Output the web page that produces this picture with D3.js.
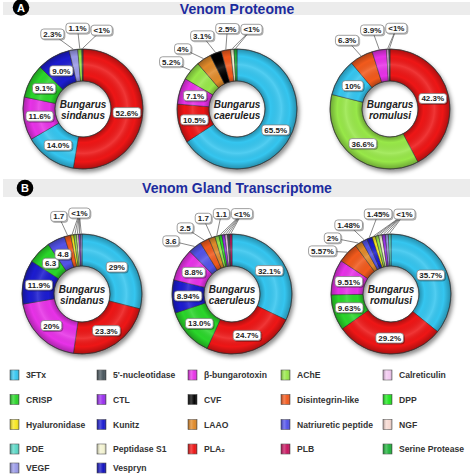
<!DOCTYPE html>
<html>
<head>
<meta charset="utf-8">
<script src="https://cdn.jsdelivr.net/npm/d3@7"></script>
<style>
  body { margin: 0; background: #fff; }
  svg { display: block; font-family: "Liberation Sans", Arial, sans-serif; }
</style>
</head>
<body>
<svg id="chart" width="474" height="474"></svg>
<script>

// protein families, in legend order (row by row)
var families = ["3FTx", "5'-nucleotidase", "β-bungarotoxin", "AChE", "Calreticulin",
  "CRISP", "CTL", "CVF", "Disintegrin-like", "DPP",
  "Hyaluronidase", "Kunitz", "LAAO", "Natriuretic peptide", "NGF",
  "PDE", "Peptidase S1", "PLA₂", "PLB", "Serine Protease",
  "VEGF", "Vespryn"];
var familyColors = ["#36c6f0", "#4a575e", "#e832e8", "#98e84a", "#f2c8f0",
  "#2ad62a", "#9a30ee", "#050505", "#f25a1e", "#20e620",
  "#f6e61e", "#1c1cd0", "#e08a2a", "#5252e8", "#f6d8d0",
  "#5ad8c6", "#f2f2d0", "#ee1616", "#c81660", "#20b43c",
  "#9a9ae8", "#1414c0"];

var panelLetters = ["A", "B"];
var panelTitles = ["Venom Proteome", "Venom Gland Transcriptome"];
var speciesNames = [["Bungarus", "sindanus"], ["Bungarus", "caeruleus"], ["Bungarus", "romulusi"]];

// A: venom proteome (clockwise from 12 o'clock)
var protSindanusFam = ["PLA₂", "3FTx", "β-bungarotoxin", "CRISP", "Kunitz", "VEGF", "AChE", "5'-nucleotidase"];
var protSindanusVal = [52.6, 14.0, 11.6, 9.1, 9.0, 2.3, 1.1, 0.3];
var protSindanusLbl = ["52.6%", "14.0%", "11.6%", "9.1%", "9.0%", "2.3%", "1.1%", "<1%"];

var protCaeruleusFam = ["3FTx", "PLA₂", "β-bungarotoxin", "AChE", "LAAO", "CVF", "Disintegrin-like", "Peptidase S1", "Serine Protease"];
var protCaeruleusVal = [65.5, 10.5, 7.1, 5.2, 4.0, 3.1, 2.5, 0.9, 0.8];
var protCaeruleusLbl = ["65.5%", "10.5%", "7.1%", "5.2%", "4%", "3.1%", "2.5%", "<1%", "<1%"];

var protRomulusiFam = ["PLA₂", "AChE", "3FTx", "Disintegrin-like", "β-bungarotoxin", "Calreticulin", "5'-nucleotidase"];
var protRomulusiVal = [42.3, 36.6, 10.0, 6.3, 3.9, 0.6, 0.3];
var protRomulusiLbl = ["42.3%", "36.6%", "10%", "6.3%", "3.9%", "<1%", "<1%"];

// B: venom gland transcriptome
var transSindanusFam = ["3FTx", "PLA₂", "β-bungarotoxin", "Kunitz", "CRISP", "Natriuretic peptide", "Disintegrin-like",
  "Hyaluronidase", "AChE", "Peptidase S1", "CTL", "VEGF"];
var transSindanusVal = [29, 23.3, 20, 11.9, 6.3, 4.8, 1.7, 0.8, 0.7, 0.6, 0.5, 0.4];
var transSindanusLbl = ["29%", "23.3%", "20%", "11.9%", "6.3", "4.8", "1.7", "<1%", "<1%", "<1%", "<1%", "<1%"];

var transCaeruleusFam = ["3FTx", "PLA₂", "CRISP", "Kunitz", "β-bungarotoxin", "Natriuretic peptide", "Disintegrin-like",
  "LAAO", "AChE", "DPP", "CTL", "Calreticulin", "5'-nucleotidase", "PLB"];
var transCaeruleusVal = [32.1, 24.7, 13.0, 8.94, 8.8, 3.6, 2.5, 1.7, 1.1, 0.8, 0.8, 0.7, 0.6, 0.6];
var transCaeruleusLbl = ["32.1%", "24.7%", "13.0%", "8.94%", "8.8%", "3.6", "2.5", "1.7", "1.1", "<1%", "<1%", "<1%", "<1%", "<1%"];

var transRomulusiFam = ["3FTx", "PLA₂", "CRISP", "β-bungarotoxin", "Disintegrin-like", "LAAO", "Natriuretic peptide", "Kunitz",
  "Hyaluronidase", "AChE", "Peptidase S1", "CTL", "VEGF", "PDE"];
var transRomulusiVal = [35.7, 29.2, 9.63, 9.51, 5.57, 2, 1.48, 1.45, 0.9, 0.9, 0.9, 0.9, 0.8, 0.7];
var transRomulusiLbl = ["35.7%", "29.2%", "9.63%", "9.51%", "5.57%", "2%", "1.48%", "1.45%", "<1%", "<1%", "<1%", "<1%", "<1%", "<1%"];

var donuts = [
  {row: 0, col: 0, fam: protSindanusFam, val: protSindanusVal, lbl: protSindanusLbl},
  {row: 0, col: 1, fam: protCaeruleusFam, val: protCaeruleusVal, lbl: protCaeruleusLbl},
  {row: 0, col: 2, fam: protRomulusiFam, val: protRomulusiVal, lbl: protRomulusiLbl},
  {row: 1, col: 0, fam: transSindanusFam, val: transSindanusVal, lbl: transSindanusLbl},
  {row: 1, col: 1, fam: transCaeruleusFam, val: transCaeruleusVal, lbl: transCaeruleusLbl},
  {row: 1, col: 2, fam: transRomulusiFam, val: transRomulusiVal, lbl: transRomulusiLbl}
];

// layout
var rowY = [109, 294];
var colX = [[83, 237, 390], [82, 232, 391]];
var bandY = [2, 179];
var bandH = [13, 18];
var innerR = 28, outerR = 60, labelR = 81;

var color = d3.scaleOrdinal().domain(families).range(familyColors);
var svg = d3.select("#chart");
var defs = svg.append("defs");

var sh = defs.append("filter").attr("id", "shadow")
  .attr("x", "-20%").attr("y", "-20%").attr("width", "150%").attr("height", "150%");
sh.append("feDropShadow").attr("dx", 2).attr("dy", 3).attr("stdDeviation", 2)
  .attr("flood-color", "#000").attr("flood-opacity", 0.45);

var sh2 = defs.append("filter").attr("id", "boxshadow")
  .attr("x", "-30%").attr("y", "-30%").attr("width", "160%").attr("height", "180%");
sh2.append("feDropShadow").attr("dx", 1).attr("dy", 1).attr("stdDeviation", 0.6)
  .attr("flood-color", "#000").attr("flood-opacity", 0.35);

var shade = defs.append("radialGradient").attr("id", "ringShade");
[[innerR / outerR, "#000", 0.28], [0.56, "#000", 0], [0.74, "#fff", 0.14], [0.88, "#000", 0], [1, "#000", 0.28]]
  .forEach(function(s) {
    shade.append("stop").attr("offset", s[0]).attr("stop-color", s[1]).attr("stop-opacity", s[2]);
  });

var swGrad = defs.append("linearGradient").attr("id", "swatchShade");
[[0, "#000", 0.3], [0.35, "#fff", 0.25], [0.7, "#fff", 0], [1, "#000", 0.3]].forEach(function(s) {
  swGrad.append("stop").attr("offset", s[0]).attr("stop-color", s[1]).attr("stop-opacity", s[2]);
});

// header bands
panelTitles.forEach(function(t, i) {
  svg.append("rect").attr("x", 3).attr("y", bandY[i]).attr("width", 467).attr("height", bandH[i])
    .attr("fill", "#ececec");
  var cy = bandY[i] + bandH[i] / 2 + (i === 0 ? -1 : 0);
  var cx = i === 0 ? 21 : 25;
  svg.append("circle").attr("cx", cx).attr("cy", cy).attr("r", 8.3).attr("fill", "#000");
  svg.append("text").attr("x", cx).attr("y", cy + 4).attr("text-anchor", "middle")
    .attr("font-size", 11).attr("font-weight", "bold").attr("fill", "#fff").text(panelLetters[i]);
  svg.append("text").attr("x", 237).attr("y", bandY[i] + bandH[i] / 2 + 5)
    .attr("text-anchor", "middle").attr("font-size", 14).attr("font-weight", "bold")
    .attr("fill", "#1c2b9e").text(t);
});

var ctx = document.createElement("canvas").getContext("2d");
ctx.font = "bold 8px 'Liberation Sans'";
function boxW(t) { return ctx.measureText(t).width + 5; }
var boxH = 10;

function polar(r, a) { return [r * Math.sin(a), -r * Math.cos(a)]; }

function drawLabel(g, t, x, y) {
  var w = boxW(t);
  var lg = g.append("g").attr("transform", "translate(" + x + "," + y + ")");
  lg.append("rect").attr("x", -w / 2).attr("y", -boxH / 2).attr("width", w).attr("height", boxH)
    .attr("rx", 3).attr("fill", "#fff").attr("stroke", "#777").attr("stroke-width", 0.7)
    .attr("filter", "url(#boxshadow)");
  lg.append("text").attr("y", 3).attr("text-anchor", "middle").attr("font-size", 8)
    .attr("font-weight", "bold").attr("fill", "#222").text(t);
}

var pie = d3.pie().sort(null).value(function(d) { return d.v; });
var arc = d3.arc().innerRadius(innerR).outerRadius(outerR);
var midArc = (innerR + outerR) / 2;

donuts.forEach(function(dn, di) {
  var items = dn.fam.map(function(f, i) { return {f: f, v: dn.val[i], t: dn.lbl[i]}; });
  var arcs = pie(items);
  var g = svg.append("g")
    .attr("transform", "translate(" + colX[dn.row][dn.col] + "," + rowY[dn.row] + ")");

  var ring = g.append("g").attr("filter", "url(#shadow)");
  ring.selectAll("path.slice").data(arcs).join("path").attr("class", "slice")
    .attr("d", arc).attr("fill", function(d) { return color(d.data.f); })
    .attr("stroke", "#333").attr("stroke-width", 0.5);
  g.append("path").attr("d", arc({startAngle: 0, endAngle: 2 * Math.PI}))
    .attr("fill", "url(#ringShade)").attr("stroke", "#333").attr("stroke-width", 0.6);

  speciesNames[dn.col].forEach(function(s, k) {
    g.append("text").attr("y", -1 + k * 10.5).attr("text-anchor", "middle")
      .attr("font-size", 10).attr("font-weight", "bold").attr("font-style", "italic")
      .attr("fill", "#222").text(s);
  });

  // split labels into inside and outside (grouping the "<1%" slices)
  var outside = [];
  arcs.forEach(function(a) {
    var mid = (a.startAngle + a.endAngle) / 2;
    var len = (a.endAngle - a.startAngle) * midArc;
    if (a.data.v >= 1 && len >= 0.8 * boxW(a.data.t)) {
      var c = arc.centroid(a);
      drawLabel(g, a.data.t, c[0], c[1]);
      return;
    }
    var last = outside[outside.length - 1];
    if (a.data.t === "<1%" && last && last.t === "<1%") last.anchors.push(mid);
    else outside.push({t: a.data.t, anchors: [mid]});
  });

  outside.forEach(function(o) { o.a = d3.mean(o.anchors); o.w = boxW(o.t); });
  for (var it = 0; it < 300; it++) {
    for (var i = 1; i < outside.length; i++) {
      var p = outside[i - 1], q = outside[i];
      var th = (p.a + q.a) / 2;
      var c = Math.abs(Math.cos(th)) + 1e-6, s = Math.abs(Math.sin(th)) + 1e-6;
      var px = Math.min(((p.w + q.w) / 2 + 2) / c, (boxH + 3) / s);
      var gap = px / labelR;
      var d = q.a - p.a;
      if (d < gap) { p.a -= (gap - d) / 2; q.a += (gap - d) / 2; }
    }
  }

  outside.forEach(function(o) {
    var lp = polar(labelR, o.a);
    o.anchors.forEach(function(an) {
      var sp = polar(outerR + 0.5, an);
      g.append("line").attr("x1", sp[0]).attr("y1", sp[1]).attr("x2", lp[0]).attr("y2", lp[1])
        .attr("stroke", "#555").attr("stroke-width", 0.7);
    });
  });
  outside.forEach(function(o) {
    var lp = polar(labelR, o.a);
    drawLabel(g, o.t, lp[0], lp[1]);
  });
});

// legend
var legCols = [10, 97, 188, 281, 383];
var legRows = [375, 399.5, 424.5, 449, 468];
var legend = svg.append("g");
families.forEach(function(f, i) {
  var x = legCols[i % 5], y = legRows[Math.floor(i / 5)];
  var lg = legend.append("g").attr("transform", "translate(" + x + "," + y + ")");
  lg.append("rect").attr("x", 0).attr("y", -5).attr("width", 9).attr("height", 10)
    .attr("fill", color(f)).attr("stroke", "#555").attr("stroke-width", 0.6);
  lg.append("rect").attr("x", 0).attr("y", -5).attr("width", 9).attr("height", 10)
    .attr("fill", "url(#swatchShade)");
  lg.append("text").attr("x", 16).attr("y", 3).attr("font-size", 8.6).attr("font-weight", "bold")
    .attr("fill", "#333").text(f);
});

</script>
</body>
</html>
